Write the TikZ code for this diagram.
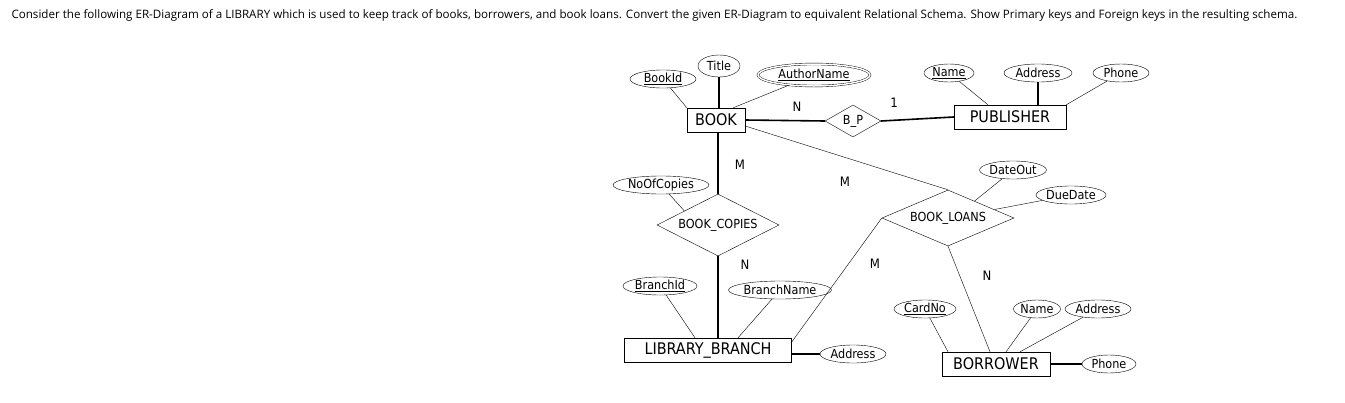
\documentclass[tikz,border=0pt]{standalone}
\usepackage{fontspec}
\setmainfont{DejaVu Sans Condensed}
\newfontfamily\titlefont{Open Sans}
\usetikzlibrary{shapes.geometric,calc}
\tikzset{
  attr/.style={draw, ellipse, inner sep=0pt, minimum height=18pt, font=\fontsize{12.5}{14}\selectfont},
  ent/.style={draw, rectangle, inner sep=0pt, minimum height=24pt, font=\fontsize{16}{18}\selectfont},
  rel/.style={draw, diamond, aspect=2.2, inner sep=0pt, font=\fontsize{12.5}{14}\selectfont},
  card/.style={font=\fontsize{13}{15}\selectfont},
  thk/.style={line width=1.6pt},
}
\begin{document}
\begin{tikzpicture}[x=1pt,y=-1pt]
\useasboundingbox[fill=white] (0,0) rectangle (1345,402);
\node[anchor=west, font=\titlefont\fontsize{11.6}{13}\selectfont] (hdr) at (8,15) {Consider the following ER-Diagram of a LIBRARY which is used to keep track of books, borrowers, and book loans. Convert the given ER-Diagram to equivalent Relational Schema. Show Primary keys and Foreign keys in the resulting schema.};
% entities
\node[ent, minimum width=58pt] (book) at (716,120) {BOOK};
\node[ent, minimum width=112pt] (pub) at (1010,117) {PUBLISHER};
\node[ent, minimum width=167pt] (lb) at (708,350) {LIBRARY\_BRANCH};
\node[ent, minimum width=108pt] (bor) at (996,364) {BORROWER};
% relationships
\node[rel, minimum width=56pt, minimum height=32pt] (bp) at (853,121) {B\_P};
\node[rel, minimum width=122pt, minimum height=62pt] (bc) at (718,225) {BOOK\_COPIES};
\node[rel, minimum width=132pt, minimum height=56pt] (bl) at (948,218) {BOOK\_LOANS};
% attributes
\node[attr, minimum width=66pt] (bookid) at (663,79) {\underline{BookId}};
\node[attr, minimum width=42pt, minimum height=22pt] (title) at (719,66) {Title};
\node[attr, minimum width=112pt, minimum height=22pt, double, double distance=1.5pt] (auth) at (814,75) {\underline{AuthorName}};
\node[attr, minimum width=50pt] (pname) at (949,73) {\underline{Name}};
\node[attr, minimum width=68pt] (paddr) at (1038,73) {Address};
\node[attr, minimum width=56pt] (pphone) at (1121,73) {Phone};
\node[attr, minimum width=96pt] (noc) at (661,185) {NoOfCopies};
\node[attr, minimum width=58pt] (dout) at (1013,170) {DateOut};
\node[attr, minimum width=66pt] (ddate) at (1071,195) {DueDate};
\node[attr, minimum width=74pt] (bid) at (660,286) {\underline{BranchId}};
\node[attr, minimum width=98pt] (bname) at (780,290) {BranchName};
\node[attr, minimum width=66pt] (laddr) at (853,354) {Address};
\node[attr, minimum width=62pt] (card) at (925,309) {\underline{CardNo}};
\node[attr, minimum width=46pt] (bname2) at (1037,309) {Name};
\node[attr, minimum width=66pt] (baddr) at (1098,309) {Address};
\node[attr, minimum width=54pt] (bphone) at (1109,364) {Phone};
% connectors
\draw (bookid) -- (book.north west);
\draw[thk] (title) -- (book.north -| title);
\draw (auth) -- ([xshift=-12pt]book.north east);
\draw[thk] (book.east) -- (bp.west);
\draw[thk] (bp.east) -- (pub.west);
\draw (pname) -- ([xshift=-22pt]pub.north);
\draw[thk] (paddr) -- (pub.north -| paddr);
\draw (pphone) -- (pub.north east);
\draw[thk] (book.south -| bc.north) -- (bc.north);
\draw (book.east |- 0,126) -- (bl.north);
\draw (noc) -- ($(bc.north)!0.55!(bc.west)$);
\draw (dout) -- ($(bl.north)!0.4!(bl.east)$);
\draw (ddate) -- ($(bl.north)!0.7!(bl.east)$);
\draw[thk] (bc.south) -- (lb.north -| bc.south);
\draw (bid) -- ([xshift=-13pt]lb.north);
\draw (bname) -- ([xshift=30pt]lb.north);
\draw[thk] (lb.east |- laddr) -- (laddr.west);
\draw (lb.east |- 0,342) -- (bl.west);
\draw (bl.south) -- ([xshift=-6pt]bor.north);
\draw (card) -- ([xshift=-48pt]bor.north);
\draw (bname2) -- ([xshift=10pt]bor.north);
\draw (baddr) -- ([xshift=24pt]bor.north);
\draw[thk] (bor.east) -- (bphone.west);
% cardinalities
\node[card] (c1) at (797,107) {N};
\node[card] (c2) at (894,103) {1};
\node[card] (c3) at (740,165) {M};
\node[card] (c4) at (845,182) {M};
\node[card] (c5) at (745,265) {N};
\node[card] (c6) at (875,264) {M};
\node[card] (c7) at (987,276) {N};
\end{tikzpicture}
\end{document}
